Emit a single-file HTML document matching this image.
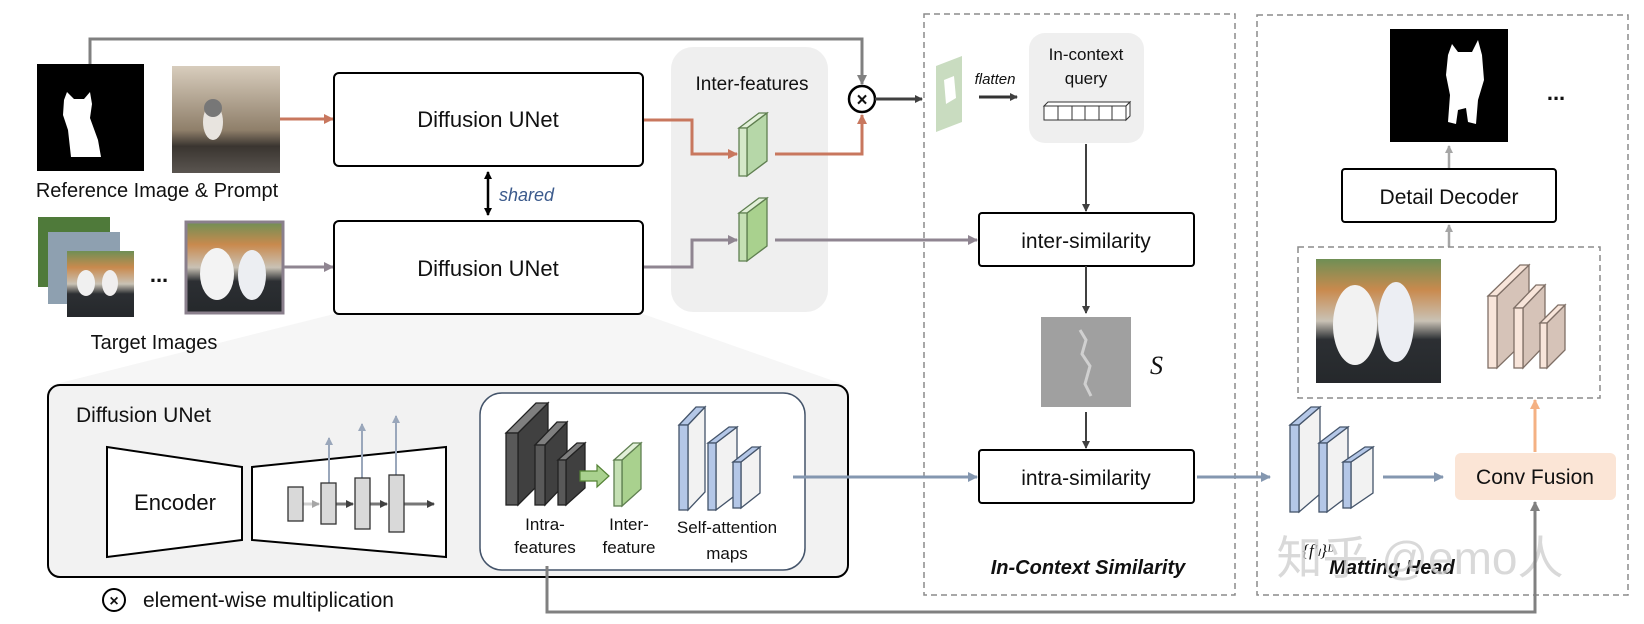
<!DOCTYPE html>
<html><head><meta charset="utf-8"><style>
html,body{margin:0;padding:0;background:#fff}
svg{display:block}
text{font-family:"Liberation Sans","Noto Sans CJK SC",sans-serif;fill:#111}
</style></head><body>
<svg width="1644" height="624" viewBox="0 0 1644 624" xmlns="http://www.w3.org/2000/svg">
<defs>
<marker id="ad" markerWidth="8" markerHeight="8" refX="7" refY="4" orient="auto" markerUnits="userSpaceOnUse"><path d="M0,0 L8,4 L0,8 z" fill="#404040"/></marker>
<marker id="ag" markerWidth="10" markerHeight="10" refX="9" refY="5" orient="auto" markerUnits="userSpaceOnUse"><path d="M0,0 L10,5 L0,10 z" fill="#808080"/></marker>
<marker id="ao" markerWidth="10" markerHeight="10" refX="9" refY="5" orient="auto" markerUnits="userSpaceOnUse"><path d="M0,0 L10,5 L0,10 z" fill="#c8775e"/></marker>
<marker id="ap" markerWidth="10" markerHeight="10" refX="9" refY="5" orient="auto" markerUnits="userSpaceOnUse"><path d="M0,0 L10,5 L0,10 z" fill="#8f8591"/></marker>
<marker id="ab" markerWidth="10" markerHeight="10" refX="9" refY="5" orient="auto" markerUnits="userSpaceOnUse"><path d="M0,0 L10,5 L0,10 z" fill="#8497b0"/></marker>
<marker id="abl" markerWidth="8" markerHeight="8" refX="7" refY="4" orient="auto" markerUnits="userSpaceOnUse"><path d="M0,0 L8,4 L0,8 z" fill="#9aa7bb"/></marker>
<marker id="apk" markerWidth="10" markerHeight="10" refX="9" refY="5" orient="auto" markerUnits="userSpaceOnUse"><path d="M0,0 L10,5 L0,10 z" fill="#f4b183"/></marker>
<marker id="alg" markerWidth="8" markerHeight="8" refX="7" refY="4" orient="auto" markerUnits="userSpaceOnUse"><path d="M0,0 L8,4 L0,8 z" fill="#a6a6a6"/></marker>
<marker id="ak" markerWidth="8" markerHeight="8" refX="7" refY="4" orient="auto-start-reverse" markerUnits="userSpaceOnUse"><path d="M0,0 L8,4 L0,8 z" fill="#000"/></marker>
<linearGradient id="catg" x1="0" y1="0" x2="0" y2="1"><stop offset="0" stop-color="#d8cdbd"/><stop offset="0.6" stop-color="#8f7f6a"/><stop offset="0.75" stop-color="#3a3530"/><stop offset="1" stop-color="#5a5550"/></linearGradient>
<linearGradient id="pupg" x1="0" y1="0" x2="0" y2="1"><stop offset="0" stop-color="#6f8f55"/><stop offset="0.25" stop-color="#c98a4e"/><stop offset="0.5" stop-color="#c9c2b5"/><stop offset="0.65" stop-color="#2c2f33"/><stop offset="1" stop-color="#25282b"/></linearGradient>
</defs>

<polygon points="334,314 643,314 848,386 48,386" fill="#f6f6f6"/>

<path d="M90,66 V39 H862 V84" fill="none" stroke="#808080" stroke-width="3" marker-end="url(#ag)"/>

<rect x="37" y="64" width="107" height="107" fill="#000"/>
<path d="M64,100 L67,92 L74,99 L84,99 L90,92 L92,104 L90,118 L98,140 L101,157 L71,157 L68,130 L63,115 Z" fill="#fff"/>
<rect x="172" y="66" width="108" height="107" fill="url(#catg)"/>
<ellipse cx="213" cy="122" rx="10" ry="18" fill="#e8e4df"/>
<ellipse cx="213" cy="108" rx="9" ry="9" fill="#777"/>
<text x="157" y="197" font-size="20" text-anchor="middle">Reference Image &amp; Prompt</text>

<rect x="38" y="217" width="72" height="70" fill="#4f7a3a"/>
<rect x="48" y="232" width="72" height="72" fill="#8ea0b0"/>
<rect x="67" y="251" width="67" height="66" fill="url(#pupg)"/>
<ellipse cx="86" cy="283" rx="9" ry="13" fill="#f0f0f0"/><ellipse cx="110" cy="283" rx="8" ry="13" fill="#f0eeee"/>
<text x="159" y="282" font-size="22" text-anchor="middle" font-weight="bold">...</text>
<rect x="186" y="222" width="97" height="91" fill="url(#pupg)" stroke="#8a7f8c" stroke-width="3"/>
<ellipse cx="217" cy="274" rx="17" ry="26" fill="#f3f3f3"/><ellipse cx="252" cy="275" rx="14" ry="25" fill="#eceef2"/>
<text x="154" y="349" font-size="20" text-anchor="middle">Target Images</text>

<line x1="280" y1="119" x2="333" y2="119" stroke="#c8775e" stroke-width="3" marker-end="url(#ao)"/>
<line x1="284" y1="267" x2="333" y2="267" stroke="#8f8591" stroke-width="3" marker-end="url(#ap)"/>

<rect x="334" y="73" width="309" height="93" rx="5" fill="#fff" stroke="#000" stroke-width="2"/>
<text x="488" y="127" font-size="22" text-anchor="middle">Diffusion UNet</text>
<rect x="334" y="221" width="309" height="93" rx="5" fill="#fff" stroke="#000" stroke-width="2"/>
<text x="488" y="276" font-size="22" text-anchor="middle">Diffusion UNet</text>
<line x1="488" y1="172" x2="488" y2="215" stroke="#000" stroke-width="2.5" marker-start="url(#ak)" marker-end="url(#ak)"/>
<text x="499" y="201" font-size="18" font-style="italic" style="fill:#3b5a8c">shared</text>

<rect x="671" y="47" width="157" height="265" rx="22" fill="#efefef"/>
<text x="752" y="90" font-size="19" text-anchor="middle">Inter-features</text>
<path d="M644,120 H692 V154 H737" fill="none" stroke="#c8775e" stroke-width="3" marker-end="url(#ao)"/>
<path d="M644,267 H692 V240 H737" fill="none" stroke="#8f8591" stroke-width="3" marker-end="url(#ap)"/>
<g stroke="#5f7f50" stroke-width="1.3">
<polygon points="747,128 767,113 767,161 747,176" fill="#b6d7a8"/>
<polygon points="739,128 759,113 767,113 747,128" fill="#e2f0d9"/>
<polygon points="739,128 747,128 747,176 739,176" fill="#d5e8c9"/>
<polygon points="747,213 767,198 767,246 747,261" fill="#a9d18e"/>
<polygon points="739,213 759,198 767,198 747,213" fill="#e2f0d9"/>
<polygon points="739,213 747,213 747,261 739,261" fill="#c5e0b4"/>
</g>
<path d="M775,154 H862 V115" fill="none" stroke="#c8775e" stroke-width="3" marker-end="url(#ao)"/>
<line x1="775" y1="240" x2="977" y2="240" stroke="#8f8591" stroke-width="3" marker-end="url(#ap)"/>

<circle cx="862" cy="99" r="13" fill="#fff" stroke="#000" stroke-width="2.5"/>
<text x="862" y="106" font-size="19" text-anchor="middle" font-weight="bold">×</text>
<line x1="875" y1="99" x2="922" y2="99" stroke="#404040" stroke-width="3" marker-end="url(#ad)"/>

<rect x="924" y="14" width="311" height="581" fill="none" stroke="#8c8c8c" stroke-width="1.5" stroke-dasharray="6,4"/>
<rect x="1257" y="15" width="371" height="580" fill="none" stroke="#8c8c8c" stroke-width="1.5" stroke-dasharray="6,4"/>

<polygon points="936,66 962,56 962,122 936,132" fill="#c9dcc0"/>
<polygon points="944,80 954,76 956,98 946,104" fill="#fff"/>
<text x="995" y="84" font-size="15" font-style="italic" text-anchor="middle">flatten</text>
<line x1="979" y1="97" x2="1017" y2="97" stroke="#333" stroke-width="3" marker-end="url(#ad)"/>

<rect x="1029" y="33" width="115" height="110" rx="16" fill="#efefef"/>
<text x="1086" y="60" font-size="17" text-anchor="middle">In-context</text>
<text x="1086" y="84" font-size="17" text-anchor="middle">query</text>
<g fill="#fff" stroke="#333" stroke-width="1">
<polygon points="1044,106 1048,102 1130,102 1126,106"/>
<polygon points="1126,106 1130,102 1130,116 1126,120"/>
<rect x="1044" y="106" width="82" height="14"/>
</g>
<g stroke="#333" stroke-width="1"><line x1="1058" y1="106" x2="1058" y2="120"/><line x1="1072" y1="106" x2="1072" y2="120"/><line x1="1085" y1="106" x2="1085" y2="120"/><line x1="1099" y1="106" x2="1099" y2="120"/><line x1="1112" y1="106" x2="1112" y2="120"/></g>
<line x1="1086" y1="144" x2="1086" y2="211" stroke="#404040" stroke-width="2" marker-end="url(#ad)"/>

<rect x="979" y="213" width="215" height="53" rx="3" fill="#fff" stroke="#000" stroke-width="2"/>
<text x="1086" y="248" font-size="21" text-anchor="middle">inter-similarity</text>
<line x1="1086" y1="266" x2="1086" y2="313" stroke="#404040" stroke-width="2" marker-end="url(#ad)"/>
<rect x="1041" y="317" width="90" height="90" fill="#a0a0a0"/>
<path d="M1080,330 l6,10 l-4,14 l8,12 l-5,18 l6,12" fill="none" stroke="#d0d0d0" stroke-width="3"/>
<text x="1150" y="374" font-size="26" font-style="italic" style="font-family:'Liberation Serif',serif">S</text>
<line x1="1086" y1="412" x2="1086" y2="448" stroke="#404040" stroke-width="2" marker-end="url(#ad)"/>
<rect x="979" y="450" width="215" height="53" rx="3" fill="#fff" stroke="#000" stroke-width="2"/>
<text x="1086" y="485" font-size="21" text-anchor="middle">intra-similarity</text>
<text x="1088" y="574" font-size="20" font-style="italic" font-weight="bold" text-anchor="middle">In-Context Similarity</text>

<rect x="1390" y="29" width="118" height="113" fill="#000"/>
<path d="M1448,55 L1452,44 L1458,52 L1472,52 L1478,40 L1482,55 L1484,80 L1478,100 L1476,124 L1468,122 L1466,108 L1458,110 L1456,124 L1448,122 L1450,95 L1446,75 Z" fill="#fff"/>
<text x="1556" y="100" font-size="22" font-weight="bold" text-anchor="middle">...</text>
<line x1="1449" y1="168" x2="1449" y2="146" stroke="#a6a6a6" stroke-width="2.5" marker-end="url(#alg)"/>
<rect x="1342" y="169" width="214" height="53" rx="3" fill="#fff" stroke="#000" stroke-width="2"/>
<text x="1449" y="204" font-size="21" text-anchor="middle">Detail Decoder</text>
<line x1="1449" y1="247" x2="1449" y2="225" stroke="#a6a6a6" stroke-width="2.5" marker-end="url(#alg)"/>
<rect x="1298" y="247" width="302" height="151" fill="none" stroke="#8c8c8c" stroke-width="1.5" stroke-dasharray="6,4"/>
<rect x="1316" y="259" width="125" height="124" fill="url(#pupg)"/>
<ellipse cx="1355" cy="325" rx="22" ry="40" fill="#f2f2f2"/><ellipse cx="1396" cy="322" rx="18" ry="40" fill="#eceef3"/>
<g stroke="#7f6f66" stroke-width="1.3">
<polygon points="1497,296 1529,265 1529,337 1497,368" fill="#d6c3b8"/>
<polygon points="1488,296 1520,265 1529,265 1497,296" fill="#f8e5da"/>
<rect x="1488" y="296" width="9" height="72" fill="#f8e5da"/>
<polygon points="1523,308 1545,285 1545,345 1523,368" fill="#d6c3b8"/>
<polygon points="1514,308 1536,285 1545,285 1523,308" fill="#f8e5da"/>
<rect x="1514" y="308" width="9" height="60" fill="#f8e5da"/>
<polygon points="1547,323 1565,305 1565,350 1547,368" fill="#d6c3b8"/>
<polygon points="1540,323 1558,305 1565,305 1547,323" fill="#f8e5da"/>
<rect x="1540" y="323" width="7" height="45" fill="#f8e5da"/>
</g>
<line x1="1535" y1="452" x2="1535" y2="400" stroke="#f4b183" stroke-width="3" marker-end="url(#apk)"/>
<rect x="1455" y="453" width="161" height="47" rx="6" fill="#fbe5d6"/>
<text x="1535" y="484" font-size="21" text-anchor="middle">Conv Fusion</text>
<line x1="1197" y1="477" x2="1270" y2="477" stroke="#8497b0" stroke-width="3" marker-end="url(#ab)"/>
<line x1="1383" y1="477" x2="1443" y2="477" stroke="#8497b0" stroke-width="3" marker-end="url(#ab)"/>
<g stroke="#44546a" stroke-width="1.3">
<polygon points="1299,425 1320,407 1320,494 1299,512" fill="#f2f2f2"/>
<polygon points="1290,425 1311,407 1320,407 1299,425" fill="#b4c7e7"/>
<rect x="1290" y="425" width="9" height="87" fill="#b4c7e7"/>
<polygon points="1327,443 1348,427 1348,496 1327,512" fill="#f2f2f2"/>
<polygon points="1319,443 1340,427 1348,427 1327,443" fill="#b4c7e7"/>
<rect x="1319" y="443" width="8" height="69" fill="#b4c7e7"/>
<polygon points="1351,462 1373,447 1373,493 1351,508" fill="#f2f2f2"/>
<polygon points="1343,462 1365,447 1373,447 1351,462" fill="#b4c7e7"/>
<rect x="1343" y="462" width="8" height="46" fill="#b4c7e7"/>
</g>
<text x="1318" y="556" font-size="17" font-style="italic" style="font-family:'Liberation Serif',serif" text-anchor="middle">{f′ₗ}ᴸ</text>
<text x="1392" y="574" font-size="20" font-style="italic" font-weight="bold" text-anchor="middle">Matting Head</text>
<text x="1420" y="574" font-size="46" text-anchor="middle" style="fill:#cfcfcf;fill-opacity:0.8">知乎 @emo人</text>

<rect x="48" y="385" width="800" height="192" rx="12" fill="#f2f2f2" stroke="#000" stroke-width="2"/>
<text x="76" y="422" font-size="21">Diffusion UNet</text>
<polygon points="107,447 242,467 242,540 107,557" fill="#fff" stroke="#000" stroke-width="2"/>
<text x="175" y="510" font-size="22" text-anchor="middle">Encoder</text>
<polygon points="252,467 446,447 446,557 252,540" fill="#fff" stroke="#000" stroke-width="2"/>
<g stroke="#9aa7bb" stroke-width="2">
<line x1="329" y1="483" x2="329" y2="438" marker-end="url(#abl)"/>
<line x1="362" y1="478" x2="362" y2="424" marker-end="url(#abl)"/>
<line x1="396" y1="475" x2="396" y2="416" marker-end="url(#abl)"/>
</g>
<line x1="303" y1="504" x2="319" y2="504" stroke="#d0d0d0" stroke-width="3" marker-end="url(#alg)"/>
<line x1="336" y1="504" x2="353" y2="504" stroke="#777" stroke-width="3" marker-end="url(#ad)"/>
<line x1="370" y1="504" x2="387" y2="504" stroke="#777" stroke-width="3" marker-end="url(#ad)"/>
<line x1="404" y1="504" x2="434" y2="504" stroke="#777" stroke-width="3" marker-end="url(#ad)"/>
<g fill="#d9d9d9" stroke="#333" stroke-width="1.3">
<rect x="288" y="487" width="15" height="34"/>
<rect x="321" y="483" width="15" height="41"/>
<rect x="355" y="478" width="15" height="51"/>
<rect x="389" y="475" width="15" height="57"/>
</g>

<rect x="480" y="393" width="325" height="177" rx="22" fill="#fff" stroke="#44546a" stroke-width="1.5"/>
<g stroke="#222" stroke-width="1.3">
<polygon points="518,433 548,403 548,475 518,505" fill="#404040"/>
<polygon points="506,433 536,403 548,403 518,433" fill="#7f7f7f"/>
<rect x="506" y="433" width="12" height="72" fill="#595959"/>
<polygon points="545,445 567,422 567,482 545,505" fill="#404040"/>
<polygon points="535,445 557,422 567,422 545,445" fill="#7f7f7f"/>
<rect x="535" y="445" width="10" height="60" fill="#595959"/>
<polygon points="566,460 585,443 585,488 566,505" fill="#404040"/>
<polygon points="558,460 577,443 585,443 566,460" fill="#7f7f7f"/>
<rect x="558" y="460" width="8" height="45" fill="#595959"/>
</g>
<polygon points="580,471 597,471 597,465 609,476 597,487 597,481 580,481" fill="#a9d18e" stroke="#548235" stroke-width="1.2"/>
<g stroke="#5f7f50" stroke-width="1.3">
<polygon points="622,460 641,443 641,489 622,506" fill="#a9d18e"/>
<polygon points="614,460 633,443 641,443 622,460" fill="#e2f0d9"/>
<rect x="614" y="460" width="8" height="46" fill="#c5e0b4"/>
</g>
<g stroke="#44546a" stroke-width="1.3">
<polygon points="688,425 705,407 705,492 688,510" fill="#f2f2f2"/>
<polygon points="679,425 696,407 705,407 688,425" fill="#b4c7e7"/>
<rect x="679" y="425" width="9" height="85" fill="#b4c7e7"/>
<polygon points="716,443 737,427 737,494 716,510" fill="#f2f2f2"/>
<polygon points="708,443 729,427 737,427 716,443" fill="#b4c7e7"/>
<rect x="708" y="443" width="8" height="67" fill="#b4c7e7"/>
<polygon points="741,462 760,447 760,493 741,508" fill="#f2f2f2"/>
<polygon points="733,462 752,447 760,447 741,462" fill="#b4c7e7"/>
<rect x="733" y="462" width="8" height="46" fill="#b4c7e7"/>
</g>
<g font-size="17" text-anchor="middle">
<text x="545" y="530">Intra-</text><text x="545" y="553">features</text>
<text x="629" y="530">Inter-</text><text x="629" y="553">feature</text>
<text x="727" y="533">Self-attention</text><text x="727" y="559">maps</text>
</g>
<line x1="793" y1="477" x2="977" y2="477" stroke="#8497b0" stroke-width="3" marker-end="url(#ab)"/>

<path d="M547,566 V612 H1535 V502" fill="none" stroke="#808080" stroke-width="3" marker-end="url(#ag)"/>

<circle cx="114" cy="600" r="11" fill="#fff" stroke="#000" stroke-width="2"/>
<text x="114" y="606" font-size="16" text-anchor="middle" font-weight="bold">×</text>
<text x="143" y="607" font-size="21">element-wise multiplication</text>
</svg>
</body></html>
